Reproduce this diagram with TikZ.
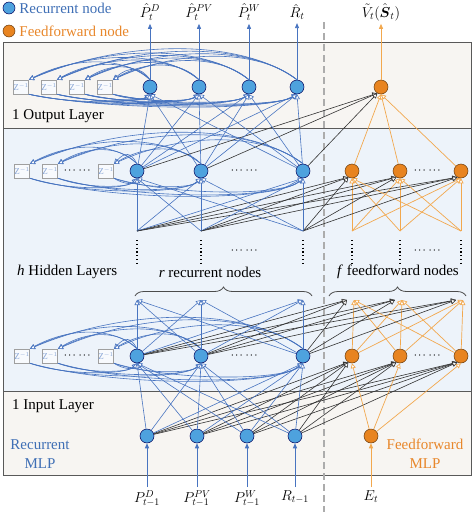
\documentclass[tikz,border=0pt]{standalone}
\usepackage{amsmath,amssymb,amsbsy}
\usepackage{fontspec}
\setmainfont{Liberation Serif}
\usepackage{tikz}
\usetikzlibrary{arrows.meta,positioning,calc,decorations.pathreplacing}
\usepackage{color}
\definecolor{recblue}{RGB}{78,162,222}
\definecolor{linkblue}{RGB}{72,116,192}
\definecolor{ffor}{RGB}{232,132,32}
\definecolor{linkor}{RGB}{242,168,78}
\definecolor{txtblue}{RGB}{63,111,181}
\definecolor{txtor}{RGB}{232,135,43}
\definecolor{layerbg}{RGB}{247,245,242}
\definecolor{hiddenbg}{RGB}{237,243,250}

\begin{document}
\begin{tikzpicture}[x=1pt,y=-1pt,
recnode/.style={
% The shape:
circle,
% The size:
minimum size=14pt,inner sep=0pt,
% The border:
draw=blue!35!black,line width=0.5pt,
% The filling:
fill=recblue
}, ffnode/.style={
% The shape:
circle,minimum size=14pt,inner sep=0pt,
% The rest
draw=ffor!45!black,line width=0.5pt,fill=ffor},
delaybox/.style={
% The shape:
rectangle,minimum width=15pt,minimum height=14pt,inner sep=0pt,
% The border:
draw=gray!75,line width=0.5pt,fill=white!60!hiddenbg,
% Font
text=linkblue!65,font=\fontsize{9}{9}\selectfont
},
laytext/.style={font=\fontsize{15}{19}\selectfont,inner sep=0pt},
ylabel/.style={font=\fontsize{14}{16}\selectfont,inner sep=3pt},
hdots/.style={font=\fontsize{8}{8}\selectfont\boldmath,inner sep=0pt},
bluelink/.style={draw=linkblue,line width=0.6pt,-{Triangle[length=5pt,width=5pt,fill=white]}},
blacklink/.style={draw=black!80,line width=0.6pt,-{Triangle[length=5pt,width=5pt,fill=white]}},
orlink/.style={draw=linkor,line width=0.7pt,-{Triangle[length=5pt,width=5pt,fill=white]}},
recloop/.style={draw=linkblue,line width=0.6pt,-{Triangle[length=5pt,width=5pt,fill=white]}},
bluearrow/.style={draw=linkblue,line width=0.8pt,-{Triangle[length=5pt,width=4pt]}},
orarrow/.style={draw=linkor,line width=0.8pt,-{Triangle[length=5pt,width=4pt]}},
vdotline/.style={line width=1.2pt,dash pattern=on 1.2pt off 2.6pt},
rbrace/.style={decorate,decoration={brace,amplitude=9pt},draw=black!70,line width=0.8pt}]

\useasboundingbox (0,0) rectangle (474,512);

% layer boxes
\filldraw[fill=layerbg,draw=black!65,line width=0.9pt] (3,42) rectangle (471,128);
\filldraw[fill=hiddenbg,draw=black!65,line width=0.9pt] (3,128) rectangle (471,391);
\filldraw[fill=layerbg,draw=black!65,line width=0.9pt] (3,391) rectangle (471,475);
\draw[gray!65,line width=1.3pt,dash pattern=on 7pt off 4pt] (324,22) -- (324,512);

% legend
\node (kr) [recnode,minimum size=12pt] at (9,8) {};
\node (kf) [ffnode,minimum size=12pt] at (9,31) {};
\node (krt) [laytext,text=txtblue,right=4pt of kr] {Recurrent node};
\node (kft) [laytext,text=txtor,right=4pt of kf] {Feedforward node};

% output layer
\foreach \n/\xx in {1/150,2/199,3/249,4/297} \node (o\n) [recnode] at (\xx,87) {};
\node (of) [ffnode] at (381,87) {};
\foreach \n/\xx in {1/21,2/49,3/77,4/105} \node (zo\n) [delaybox] at (\xx,87) {Z$^{-1}$};

% hidden layers
\foreach \r/\yy in {a/171,b/356}{
  \foreach \n/\xx in {1/137,2/201,3/303} \node (h\r\n) [recnode] at (\xx,\yy) {};
  \foreach \n/\xx in {1/352,2/400,3/461} \node (f\r\n) [ffnode] at (\xx,\yy) {};
  \foreach \n/\xx in {1/22,2/50,3/106} \node (z\r\n) [delaybox] at (\xx,\yy) {Z$^{-1}$};
  \foreach \n/\xx in {1/78,2/245,3/428} \node (d\r\n) [hdots] at (\xx,\yy) {$\cdots\,\cdots$};
}
\node (dm1) [hdots] at (245,251) {$\cdots\,\cdots$};
\node (dm2) [hdots] at (428,251) {$\cdots\,\cdots$};
\foreach \xx in {137,201,303,352,400,461} \draw[vdotline] (\xx,240) -- (\xx,264);

% loose ends between the hidden layers
\foreach \n/\xx in {1/137,2/201,3/303} {
  \coordinate (ur\n) at (\xx,231);
  \coordinate (vr\n) at (\xx,300);
}
\foreach \n/\xx in {1/352,2/400,3/461} {
  \coordinate (uf\n) at (\xx,231);
  \coordinate (vk\n) at (\xx-5,300);
  \coordinate (vf\n) at (\xx+2,300);
}

% input layer
\foreach \n/\xx in {1/147,2/197,3/247,4/295} \node (i\n) [recnode] at (\xx,436) {};
\node (ie) [ffnode] at (371,436) {};

% texts
\node (outl) [laytext,anchor=west] at (12,116) {1 Output Layer};
\node (hidl) [laytext,anchor=west] at (17,272) {\textit{h} Hidden Layers};
\node (inl) [laytext,anchor=west] at (12,406) {1 Input Layer};
\node (rl) [laytext] at (210,272) {\textit{r} recurrent nodes};
\node (fl) [laytext] at (398,272) {\textit{f} feedforward nodes};
\node (rmlp) [laytext,text=txtblue,align=center] at (40,454) {Recurrent\\MLP};
\node (fmlp) [laytext,text=txtor,align=center] at (425,454) {Feedforward\\MLP};
\draw[rbrace] (135,296) -- (312,296);
\draw[rbrace] (329,296) -- (466,296);

% outputs and inputs
\node (yo1) [ylabel] at (150,12) {$\hat{P}_t^{D}$};
\node (yo2) [ylabel] at (199,12) {$\hat{P}_t^{PV}$};
\node (yo3) [ylabel] at (249,12) {$\hat{P}_t^{W}$};
\node (yo4) [ylabel] at (297,12) {$\hat{R}_t$};
\node (yof) [ylabel] at (381,12) {$\tilde{V}_t(\hat{\boldsymbol{S}}_t)$};
\node (xi1) [ylabel,anchor=north] at (147,487) {$P_{t-1}^{D}$};
\node (xi2) [ylabel,anchor=north] at (197,487) {$P_{t-1}^{PV}$};
\node (xi3) [ylabel,anchor=north] at (247,487) {$P_{t-1}^{W}$};
\node (xi4) [ylabel,anchor=north] at (295,487) {$R_{t-1}$};
\node (xie) [ylabel,anchor=north] at (371,487) {$E_t$};
\foreach \n in {1,2,3,4} {
  \draw[bluearrow] (o\n) -- (yo\n);
  \draw[bluearrow] (xi\n) -- (i\n);
}
\draw[orarrow] (of) -- (yof);
\draw[orarrow] (xie) -- (ie);

% recurrent feedback through the delays
\foreach \j/\xo in {1/150,2/199,3/249,4/297}
  \foreach \i/\xz in {1/21,2/49,3/77,4/105} {
    \pgfmathsetmacro\d{\xo-\xz}
    \pgfmathsetmacro\h{8+0.12*\d}
    \pgfmathsetmacro\g{3+0.05*\d}
    \draw[recloop] (o\j.north) .. controls +(-0.2*\d,-\h) and +(0.35*\d,-\h) .. (zo\i.north east);
    \draw[recloop] (zo\i.south east) .. controls +(0.3*\d,\g) and +(-0.1*\d,\g) .. (o\j.south);
  }
\foreach \r in {a,b}
  \foreach \j/\xo in {1/137,2/201,3/303}
    \foreach \i/\xz in {1/22,2/50,3/106} {
      \pgfmathsetmacro\d{\xo-\xz}
      \pgfmathsetmacro\h{8+0.12*\d}
      \pgfmathsetmacro\g{4+0.07*\d}
      \draw[recloop] (h\r\j.north) .. controls +(-0.2*\d,-\h) and +(0.35*\d,-\h) .. (z\r\i.north east);
      \draw[recloop] (z\r\i.south east) .. controls +(0.3*\d,\g) and +(-0.1*\d,\g) .. (h\r\j.south);
    }

% hidden to output
\foreach \s in {1,2,3} {
  \foreach \t in {1,2,3,4} \path (ha\s) edge[bluelink] (o\t.south);
  \path (ha\s) edge[blacklink] (of.-120);
  \path (fa\s) edge[orlink] (of.south);
}
% into the upper hidden layer
\foreach \s in {1,2,3}
  \foreach \t in {1,2,3} {
    \path (ur\s) edge[bluelink] (ha\t.south);
    \path (ur\s) edge[blacklink] (fa\t.-120);
    \path (uf\s) edge[orlink] (fa\t.south);
  }
% out of the lower hidden layer
\foreach \s in {1,2,3}
  \foreach \t in {1,2,3} {
    \path (hb\s) edge[bluelink] (vr\t);
    \path (hb\s) edge[blacklink] (vk\t);
    \path (fb\s) edge[orlink] (vf\t);
  }
% input to hidden
\foreach \s in {1,2,3,4}
  \foreach \t in {1,2,3} {
    \path (i\s) edge[bluelink] (hb\t.south);
    \path (i\s) edge[blacklink] (fb\t.-120);
  }
\foreach \t in {1,2,3} \path (ie) edge[orlink] (fb\t.south);
\end{tikzpicture}
\end{document}
